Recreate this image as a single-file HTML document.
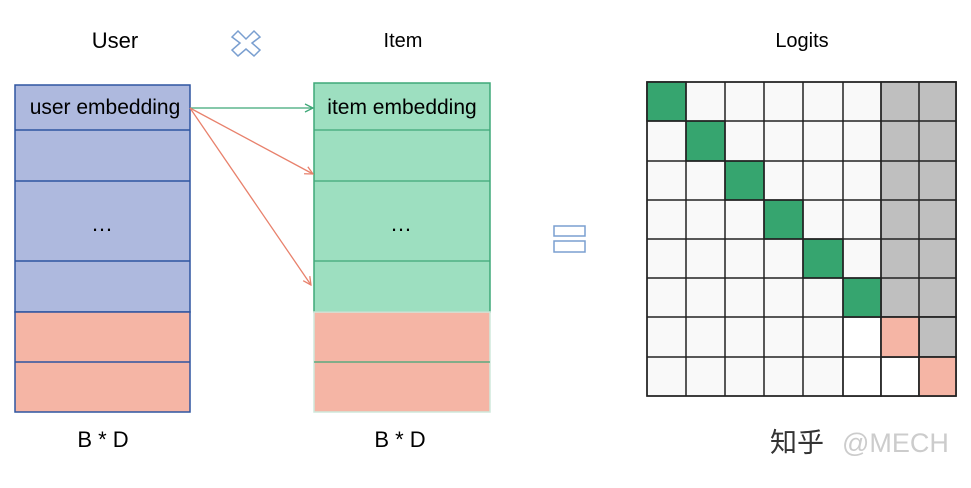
<!DOCTYPE html>
<html><head><meta charset="utf-8"><style>
body{margin:0;background:#fff;width:971px;height:483px;overflow:hidden;font-family:"Liberation Sans","Noto Sans CJK SC",sans-serif}
</style></head><body>
<svg width="971" height="483" xmlns="http://www.w3.org/2000/svg" font-family="Liberation Sans, Noto Sans CJK SC, sans-serif">
<defs>
<marker id="ag" markerWidth="10" markerHeight="10" refX="9" refY="5" orient="auto" markerUnits="userSpaceOnUse"><path d="M1,1 L9,5 L1,9" fill="none" stroke="#3fa878" stroke-width="1.3"/></marker>
<marker id="ar" markerWidth="10" markerHeight="10" refX="9" refY="5" orient="auto" markerUnits="userSpaceOnUse"><path d="M1,1 L9,5 L1,9" fill="none" stroke="#e8816c" stroke-width="1.3"/></marker>
</defs>
<text x="115" y="48" font-size="22" text-anchor="middle">User</text>
<text x="403" y="47" font-size="20" text-anchor="middle">Item</text>
<text x="802" y="47" font-size="20" text-anchor="middle">Logits</text>
<path d="M238,31 L246,39 L254,31 L260,37 L252,43 L260,50 L254,56 L246,49 L238,56 L232,50 L240,43 L232,37 Z" fill="none" stroke="#7a9fd0" stroke-width="1.5"/>
<rect x="15" y="85" width="175" height="227" fill="#aeb9de" stroke="#2f55a0" stroke-width="1.5"/>
<rect x="15" y="312" width="175" height="100" fill="#f5b5a5" stroke="#2f55a0" stroke-width="1.5"/>
<g stroke="#2f55a0" stroke-width="1.5"><line x1="15" y1="130" x2="190" y2="130"/><line x1="15" y1="181" x2="190" y2="181"/><line x1="15" y1="261" x2="190" y2="261"/><line x1="15" y1="362" x2="190" y2="362"/></g>
<text x="105" y="114" font-size="21" text-anchor="middle">user embedding</text>
<text x="102" y="231" font-size="22" text-anchor="middle">…</text>
<rect x="314" y="83" width="176" height="229" fill="#9ddfc0" stroke="#3fa878" stroke-width="1.5"/>
<rect x="314" y="312" width="176" height="100" fill="#f5b5a5" stroke="#cfe8dc" stroke-width="1.5"/>
<g stroke="#3fa878" stroke-width="1.2"><line x1="314" y1="130" x2="490" y2="130"/><line x1="314" y1="181" x2="490" y2="181"/><line x1="314" y1="261" x2="490" y2="261"/><line x1="314" y1="362" x2="490" y2="362"/></g>
<text x="402" y="114" font-size="21" text-anchor="middle">item embedding</text>
<text x="401" y="231" font-size="22" text-anchor="middle">…</text>
<line x1="190" y1="108" x2="313" y2="108" stroke="#3fa878" stroke-width="1.3" marker-end="url(#ag)"/>
<line x1="190" y1="108" x2="313" y2="174" stroke="#e8816c" stroke-width="1.3" marker-end="url(#ar)"/>
<line x1="190" y1="108" x2="311" y2="285" stroke="#e8816c" stroke-width="1.3" marker-end="url(#ar)"/>
<text x="103" y="447" font-size="22" text-anchor="middle">B * D</text>
<text x="400" y="447" font-size="22" text-anchor="middle">B * D</text>
<rect x="554" y="226" width="31" height="10" fill="none" stroke="#7a9fd0" stroke-width="1.5"/>
<rect x="554" y="241" width="31" height="11" fill="none" stroke="#7a9fd0" stroke-width="1.5"/>
<g stroke="#222" stroke-width="1.5">
<rect x="647" y="82" width="309" height="314" fill="#f9f9f9"/>
<rect x="881" y="82" width="75" height="235" fill="#bfbfbf"/>
<rect x="919" y="317" width="37" height="40" fill="#bfbfbf"/>
<rect x="843" y="317" width="38" height="79" fill="#fff"/>
<rect x="881" y="357" width="38" height="39" fill="#fff"/>
<rect x="647" y="82" width="39" height="39" fill="#36a56f"/>
<rect x="686" y="121" width="39" height="40" fill="#36a56f"/>
<rect x="725" y="161" width="39" height="39" fill="#36a56f"/>
<rect x="764" y="200" width="39" height="39" fill="#36a56f"/>
<rect x="803" y="239" width="40" height="39" fill="#36a56f"/>
<rect x="843" y="278" width="38" height="39" fill="#36a56f"/>
<rect x="881" y="317" width="38" height="40" fill="#f5b5a5"/>
<rect x="919" y="357" width="37" height="39" fill="#f5b5a5"/>
<line x1="686" y1="82" x2="686" y2="396"/><line x1="725" y1="82" x2="725" y2="396"/><line x1="764" y1="82" x2="764" y2="396"/><line x1="803" y1="82" x2="803" y2="396"/><line x1="843" y1="82" x2="843" y2="396"/><line x1="881" y1="82" x2="881" y2="396"/><line x1="919" y1="82" x2="919" y2="396"/>
<line x1="647" y1="121" x2="956" y2="121"/><line x1="647" y1="161" x2="956" y2="161"/><line x1="647" y1="200" x2="956" y2="200"/><line x1="647" y1="239" x2="956" y2="239"/><line x1="647" y1="278" x2="956" y2="278"/><line x1="647" y1="317" x2="956" y2="317"/><line x1="647" y1="357" x2="956" y2="357"/>
<rect x="647" y="82" width="309" height="314" fill="none"/>
</g>
<text x="770" y="452" font-size="27" fill="#333">知乎</text>
<text x="842" y="452" font-size="27" fill="#ccc">@MECH</text>
</svg>
</body></html>
